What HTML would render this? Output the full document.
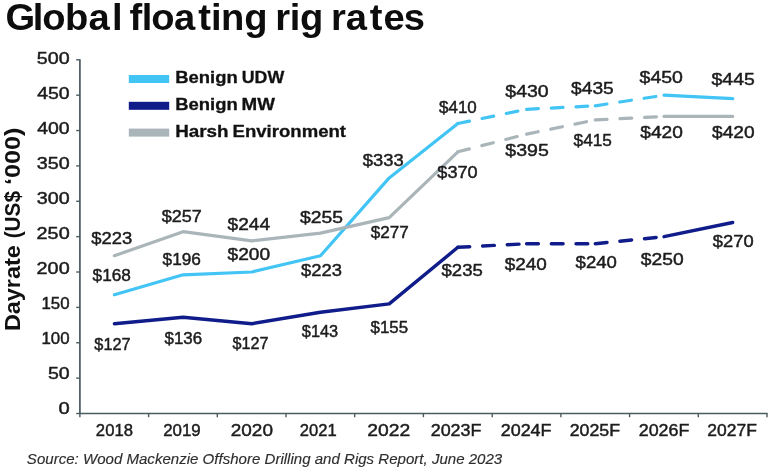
<!DOCTYPE html>
<html><head><meta charset="utf-8"><title>Global floating rig rates</title>
<style>
html,body{margin:0;padding:0;background:#fff;}
body{width:768px;height:472px;overflow:hidden;font-family:"Liberation Sans",sans-serif;}
svg{display:block}
text{font-family:"Liberation Sans",sans-serif;fill:#1c1c1e;stroke:#1c1c1e;stroke-width:0.45px}
.t{font-weight:bold;fill:#0d0d0d;stroke:none}
.lg{font-weight:bold;fill:#111;stroke:#111;stroke-width:0.3px}
.src{font-style:italic;fill:#2e2e30;stroke:#2e2e30;stroke-width:0.15px}
.ya{font-weight:bold;fill:#111;stroke:none}
</style></head><body>
<svg width="768" height="472" viewBox="0 0 768 472">
<rect width="768" height="472" fill="#fff"/>
<text class="t" font-size="36" transform="translate(0,29.6) scale(1.06,1)" x="5.14 30.90 39.77 61.40 83.49 105.57">Global</text>
<text class="t" font-size="36" transform="translate(0,29.6) scale(1.06,1)" x="122.19 133.64 142.75 164.20 187.08 199.02 208.41 230.32">floating</text>
<text class="t" font-size="36" transform="translate(0,29.6) scale(1.06,1)" x="259.67 273.26 283.05">rig</text>
<text class="t" font-size="36" transform="translate(0,29.6) scale(1.06,1)" x="312.17 326.27 348.78 361.71 380.81">rates</text>
<path d="M79.9 59.2 V413.5 H767.6" fill="none" stroke="#4b5b62" stroke-width="1.7"/>
<line x1="76.2" x2="79.9" y1="413.50" y2="413.50" stroke="#4b5b62" stroke-width="1.4"/><text class="yl" font-size="16" transform="translate(58.39,414.30) scale(1.2630,1)">0</text>
<line x1="76.2" x2="79.9" y1="378.13" y2="378.13" stroke="#4b5b62" stroke-width="1.4"/><text class="yl" font-size="16" transform="translate(47.92,379.27) scale(1.2198,1)">50</text>
<line x1="76.2" x2="79.9" y1="342.76" y2="342.76" stroke="#4b5b62" stroke-width="1.4"/><text class="yl" font-size="16" transform="translate(41.44,344.24) scale(1.0531,1)">100</text>
<line x1="76.2" x2="79.9" y1="307.39" y2="307.39" stroke="#4b5b62" stroke-width="1.4"/><text class="yl" font-size="16" transform="translate(41.44,309.21) scale(1.0531,1)">150</text>
<line x1="76.2" x2="79.9" y1="272.02" y2="272.02" stroke="#4b5b62" stroke-width="1.4"/><text class="yl" font-size="16" transform="translate(36.61,274.18) scale(1.2381,1)">200</text>
<line x1="76.2" x2="79.9" y1="236.65" y2="236.65" stroke="#4b5b62" stroke-width="1.4"/><text class="yl" font-size="16" transform="translate(36.61,239.15) scale(1.2381,1)">250</text>
<line x1="76.2" x2="79.9" y1="201.28" y2="201.28" stroke="#4b5b62" stroke-width="1.4"/><text class="yl" font-size="16" transform="translate(36.81,204.12) scale(1.2303,1)">300</text>
<line x1="76.2" x2="79.9" y1="165.91" y2="165.91" stroke="#4b5b62" stroke-width="1.4"/><text class="yl" font-size="16" transform="translate(36.81,169.09) scale(1.2303,1)">350</text>
<line x1="76.2" x2="79.9" y1="130.54" y2="130.54" stroke="#4b5b62" stroke-width="1.4"/><text class="yl" font-size="16" transform="translate(37.21,134.06) scale(1.2151,1)">400</text>
<line x1="76.2" x2="79.9" y1="95.17" y2="95.17" stroke="#4b5b62" stroke-width="1.4"/><text class="yl" font-size="16" transform="translate(37.21,99.03) scale(1.2151,1)">450</text>
<line x1="76.2" x2="79.9" y1="59.80" y2="59.80" stroke="#4b5b62" stroke-width="1.4"/><text class="yl" font-size="16" transform="translate(36.81,64.00) scale(1.2303,1)">500</text>
<line x1="79.9" x2="79.9" y1="413.5" y2="417.2" stroke="#4b5b62" stroke-width="1.4"/><line x1="148.6" x2="148.6" y1="413.5" y2="417.2" stroke="#4b5b62" stroke-width="1.4"/><line x1="217.3" x2="217.3" y1="413.5" y2="417.2" stroke="#4b5b62" stroke-width="1.4"/><line x1="286.0" x2="286.0" y1="413.5" y2="417.2" stroke="#4b5b62" stroke-width="1.4"/><line x1="354.7" x2="354.7" y1="413.5" y2="417.2" stroke="#4b5b62" stroke-width="1.4"/><line x1="423.4" x2="423.4" y1="413.5" y2="417.2" stroke="#4b5b62" stroke-width="1.4"/><line x1="492.2" x2="492.2" y1="413.5" y2="417.2" stroke="#4b5b62" stroke-width="1.4"/><line x1="560.9" x2="560.9" y1="413.5" y2="417.2" stroke="#4b5b62" stroke-width="1.4"/><line x1="629.6" x2="629.6" y1="413.5" y2="417.2" stroke="#4b5b62" stroke-width="1.4"/><line x1="698.3" x2="698.3" y1="413.5" y2="417.2" stroke="#4b5b62" stroke-width="1.4"/><line x1="767.0" x2="767.0" y1="413.5" y2="417.2" stroke="#4b5b62" stroke-width="1.4"/>
<text class="xl" font-size="16.8" transform="translate(95.87,436.40) scale(0.9925,1)">2018</text>
<text class="xl" font-size="16.8" transform="translate(163.15,436.40) scale(1.0060,1)">2019</text>
<text class="xl" font-size="16.8" transform="translate(230.75,436.40) scale(1.1293,1)">2020</text>
<text class="xl" font-size="16.8" transform="translate(299.87,436.40) scale(0.9865,1)">2021</text>
<text class="xl" font-size="16.8" transform="translate(367.34,436.40) scale(1.1485,1)">2022</text>
<text class="xl" font-size="16.8" transform="translate(430.70,436.40) scale(1.0669,1)">2023F</text>
<text class="xl" font-size="16.8" transform="translate(500.70,436.40) scale(1.0690,1)">2024F</text>
<text class="xl" font-size="16.8" transform="translate(569.71,436.40) scale(1.0582,1)">2025F</text>
<text class="xl" font-size="16.8" transform="translate(638.71,436.40) scale(1.0647,1)">2026F</text>
<text class="xl" font-size="16.8" transform="translate(707.33,436.40) scale(1.0409,1)">2027F</text>
<polyline points="114.4,294.7 183.1,274.8 251.8,272.0 320.5,255.7 389.2,177.9 457.9,123.5" fill="none" stroke="#42c4f5" stroke-width="3.2" stroke-linejoin="round" stroke-linecap="round"/>
<polyline points="457.9,123.5 526.6,109.3" fill="none" stroke="#42c4f5" stroke-width="3.2" stroke-dasharray="11.8 12.9" stroke-linecap="round"/>
<polyline points="526.6,109.3 595.3,105.8" fill="none" stroke="#42c4f5" stroke-width="3.2" stroke-dasharray="11.8 12.9" stroke-linecap="round"/>
<polyline points="595.3,105.8 664.0,95.2" fill="none" stroke="#42c4f5" stroke-width="3.2" stroke-dasharray="11.8 12.9" stroke-linecap="round"/>
<polyline points="664.0,95.2 732.7,98.7" fill="none" stroke="#42c4f5" stroke-width="3.2" stroke-linecap="round"/>
<polyline points="114.4,323.7 183.1,317.3 251.8,323.7 320.5,312.3 389.2,303.9 457.9,247.3" fill="none" stroke="#0f1c8a" stroke-width="3.4" stroke-linejoin="round" stroke-linecap="round"/>
<polyline points="457.9,247.3 526.6,243.7" fill="none" stroke="#0f1c8a" stroke-width="3.4" stroke-dasharray="11.8 12.9" stroke-linecap="round"/>
<polyline points="526.6,243.7 595.3,243.7" fill="none" stroke="#0f1c8a" stroke-width="3.4" stroke-dasharray="11.8 12.9" stroke-linecap="round"/>
<polyline points="595.3,243.7 664.0,236.7" fill="none" stroke="#0f1c8a" stroke-width="3.4" stroke-dasharray="11.8 12.9" stroke-linecap="round"/>
<polyline points="664.0,236.7 732.7,222.5" fill="none" stroke="#0f1c8a" stroke-width="3.4" stroke-linecap="round"/>
<polyline points="114.4,255.7 183.1,231.7 251.8,240.9 320.5,233.1 389.2,217.6 457.9,151.8" fill="none" stroke="#aab5b9" stroke-width="3.2" stroke-linejoin="round" stroke-linecap="round"/>
<polyline points="457.9,151.8 526.6,134.1" fill="none" stroke="#aab5b9" stroke-width="3.2" stroke-dasharray="11.8 12.9" stroke-linecap="round"/>
<polyline points="526.6,134.1 595.3,119.9" fill="none" stroke="#aab5b9" stroke-width="3.2" stroke-dasharray="11.8 12.9" stroke-linecap="round"/>
<polyline points="595.3,119.9 664.0,116.4" fill="none" stroke="#aab5b9" stroke-width="3.2" stroke-dasharray="11.8 12.9" stroke-linecap="round"/>
<polyline points="664.0,116.4 732.7,116.4" fill="none" stroke="#aab5b9" stroke-width="3.2" stroke-linecap="round"/>
<rect x="128.8" y="75.0" width="40.4" height="8" fill="#42c4f5"/><text class="lg" font-size="16.8" transform="translate(175.20,83.00) scale(1.0993,1)">Benign</text>
<text class="lg" font-size="16.8" transform="translate(241.73,83.00) scale(1.0602,1)">UDW</text>
<rect x="128.8" y="101.8" width="40.4" height="8" fill="#0f1c8a"/><text class="lg" font-size="16.8" transform="translate(175.20,109.80) scale(1.0993,1)">Benign</text>
<text class="lg" font-size="16.8" transform="translate(241.58,109.80) scale(1.1176,1)">MW</text>
<rect x="128.8" y="128.6" width="40.4" height="8" fill="#aab5b9"/><text class="lg" font-size="16.8" transform="translate(175.17,136.60) scale(1.1224,1)">Harsh</text>
<text class="lg" font-size="16.8" transform="translate(232.49,136.60) scale(1.1066,1)">Environment</text>
<text class="dl" font-size="16.3" transform="translate(91.32,243.75) scale(1.1283,1)">$223</text>
<text class="dl" font-size="16.3" transform="translate(161.82,222.00) scale(1.1051,1)">$257</text>
<text class="dl" font-size="16.3" transform="translate(227.56,230.00) scale(1.1722,1)">$244</text>
<text class="dl" font-size="16.3" transform="translate(300.06,222.50) scale(1.1847,1)">$255</text>
<text class="dl" font-size="16.3" transform="translate(370.83,238.00) scale(1.0485,1)">$277</text>
<text class="dl" font-size="16.3" transform="translate(92.58,280.75) scale(1.0578,1)">$168</text>
<text class="dl" font-size="16.3" transform="translate(162.58,264.50) scale(1.0578,1)">$196</text>
<text class="dl" font-size="16.3" transform="translate(227.56,260.00) scale(1.1749,1)">$200</text>
<text class="dl" font-size="16.3" transform="translate(301.07,276.25) scale(1.1283,1)">$223</text>
<text class="dl" font-size="16.3" transform="translate(362.82,165.75) scale(1.1283,1)">$333</text>
<text class="dl" font-size="16.3" transform="translate(94.34,350.00) scale(0.9989,1)">$127</text>
<text class="dl" font-size="16.3" transform="translate(164.58,344.25) scale(1.0366,1)">$136</text>
<text class="dl" font-size="16.3" transform="translate(232.59,348.75) scale(0.9918,1)">$127</text>
<text class="dl" font-size="16.3" transform="translate(301.84,337.00) scale(1.0013,1)">$143</text>
<text class="dl" font-size="16.3" transform="translate(370.58,332.50) scale(1.0366,1)">$155</text>
<text class="dl" font-size="16.3" transform="translate(439.08,112.50) scale(1.0413,1)">$410</text>
<text class="dl" font-size="16.3" transform="translate(505.31,97.00) scale(1.1960,1)">$430</text>
<text class="dl" font-size="16.3" transform="translate(571.06,93.75) scale(1.1776,1)">$435</text>
<text class="dl" font-size="16.3" transform="translate(639.56,82.50) scale(1.1960,1)">$450</text>
<text class="dl" font-size="16.3" transform="translate(711.56,85.00) scale(1.1917,1)">$445</text>
<text class="dl" font-size="16.3" transform="translate(437.32,177.50) scale(1.1116,1)">$370</text>
<text class="dl" font-size="16.3" transform="translate(505.30,156.25) scale(1.1988,1)">$395</text>
<text class="dl" font-size="16.3" transform="translate(573.58,146.25) scale(1.0578,1)">$415</text>
<text class="dl" font-size="16.3" transform="translate(640.31,137.50) scale(1.1749,1)">$420</text>
<text class="dl" font-size="16.3" transform="translate(712.06,137.50) scale(1.1749,1)">$420</text>
<text class="dl" font-size="16.3" transform="translate(441.56,276.25) scale(1.1353,1)">$235</text>
<text class="dl" font-size="16.3" transform="translate(504.81,270.00) scale(1.1609,1)">$240</text>
<text class="dl" font-size="16.3" transform="translate(575.56,268.00) scale(1.1398,1)">$240</text>
<text class="dl" font-size="16.3" transform="translate(640.81,264.50) scale(1.1820,1)">$250</text>
<text class="dl" font-size="16.3" transform="translate(712.82,246.75) scale(1.1257,1)">$270</text>
<text class="ya" font-size="22" transform="translate(19.8,331.12) rotate(-90) scale(1.0657,1)">Dayrate</text>
<text class="ya" font-size="22" transform="translate(19.8,238.34) rotate(-90) scale(0.9461,1)">(US$</text>
<text class="ya" font-size="22" transform="translate(19.8,185.04) rotate(-90) scale(1.1463,1)">‘000)</text>
<text class="src" font-size="15.2" transform="translate(26.85,464.30) scale(0.9910,1)">Source: Wood Mackenzie Offshore Drilling and Rigs Report, June 2023</text>
</svg></body></html>
